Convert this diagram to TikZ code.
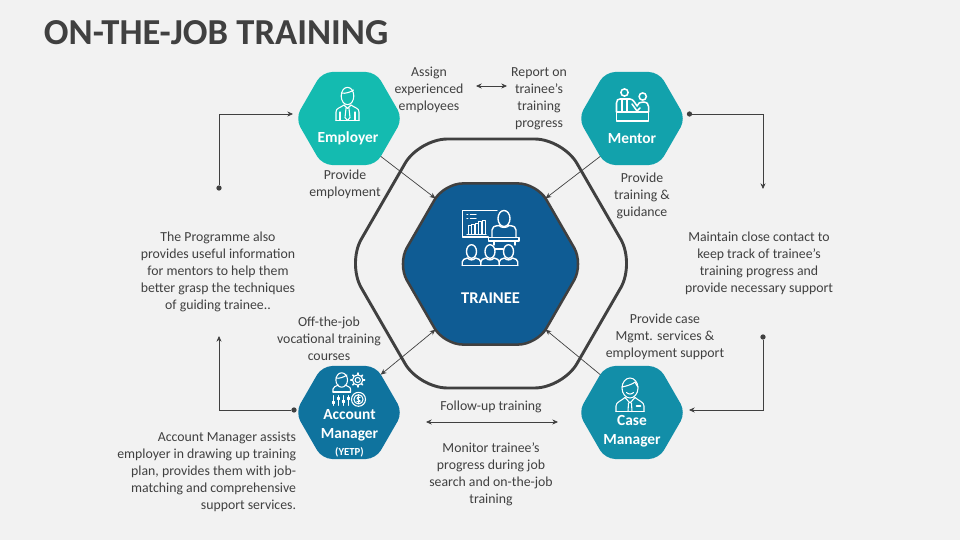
\documentclass[tikz,border=0pt]{standalone}
\usepackage{fontspec}
\setmainfont{Carlito}
\usetikzlibrary{shapes.geometric}
\usetikzlibrary{arrows.meta}
\definecolor{bgcol}{HTML}{F2F2F2}
\definecolor{inkcol}{HTML}{404040}
\definecolor{employercol}{HTML}{14BBB0}
\definecolor{mentorcol}{HTML}{12A2AC}
\definecolor{accountcol}{HTML}{0F739E}
\definecolor{casecol}{HTML}{128EA8}
\definecolor{traineecol}{HTML}{0F5C94}
\tikzset{
  smallhex/.style={regular polygon,regular polygon sides=6,inner sep=0pt,outer sep=0pt,minimum size=107.4/36*1cm,rounded corners=0.28cm},
  label/.style={text=inkcol,align=center,font=\fontsize{10.9}{13.4}\selectfont},
  hexlabel/.style={text=white,align=center,font=\fontsize{12.2}{15}\selectfont\bfseries},
  link/.style={draw=inkcol,line width=0.55pt,-{Stealth[length=4.5pt,width=4pt]}},
  twolink/.style={link,{Stealth[length=4.5pt,width=4pt]}-{Stealth[length=4.5pt,width=4pt]}},
  dot/.style={circle,fill=inkcol,inner sep=0pt,minimum size=4.2pt},
  icon/.style={draw=white,line width=0.85pt,line join=round,line cap=round},
}
\begin{document}
\begin{tikzpicture}[x=1cm/36,y=-1cm/36]
\fill[bgcol] (0,0) rectangle (960,540);
\node[anchor=west,text=inkcol,font=\fontsize{28.9}{34}\selectfont\bfseries] (title) at (39.5,33) {ON-THE-JOB TRAINING};

% outer ring and hexagons
\node[regular polygon,regular polygon sides=6,draw=inkcol,line width=2.3pt,inner sep=0pt,minimum size=287.5/36*1cm,rounded corners=0.78cm] (ring) at (491,263.5) {};
\node[regular polygon,regular polygon sides=6,fill=traineecol,draw=inkcol,line width=2pt,inner sep=0pt,outer sep=0pt,minimum size=186/36*1cm,rounded corners=0.52cm] (trainee) at (490.5,264) {};
\node[smallhex,fill=employercol] (employer) at (349,118.5) {};
\node[smallhex,fill=mentorcol] (mentor) at (632,118.5) {};
\node[smallhex,fill=accountcol] (account) at (349,412.5) {};
\node[smallhex,fill=casecol] (case) at (632,412.5) {};

% hexagon labels
\node[hexlabel] (employertxt) at (348,138) {Employer};
\node[hexlabel] (mentortxt) at (632,139) {Mentor};
\node[hexlabel] (accounttxt) at (349.5,425.5) {Account\\Manager};
\node[hexlabel,font=\fontsize{8.5}{10}\selectfont\bfseries] (yetptxt) at (349.5,452) {(YETP)};
\node[hexlabel] (casetxt) at (632,431.5) {Case\\Manager};
\node[hexlabel,font=\fontsize{13}{15}\selectfont\bfseries] (traineetxt) at (490.5,298) {TRAINEE};

% text blocks
\node[label] (assign) at (429,89.5) {Assign\\experienced\\employees};
\node[label] (report) at (539,98.5) {Report on\\trainee's\\training\\progress};
\node[label] (employment) at (345,184.5) {Provide\\employment};
\node[label] (guidance) at (642,196) {Provide\\training \&\\guidance};
\node[label] (contact) at (759,263.5) {Maintain close contact to\\keep track of trainee's\\training progress and\\provide necessary support};
\node[label] (programme) at (218,271.5) {The Programme also\\provides useful information\\for mentors to help them\\better grasp the techniques\\of guiding trainee..};
\node[label] (offjob) at (329,339) {Off-the-job\\vocational training\\courses};
\node[label] (casesvc) at (665,337) {Provide case\\Mgmt. services \&\\employment support};
\node[label] (followup) at (491,407) {Follow-up training};
\node[label] (monitor) at (491,474.5) {Monitor trainee's\\progress during job\\search and on-the-job\\training};
\node[label,align=right,anchor=east] (assists) at (300.5,471.5) {Account Manager assists\\employer in drawing up training\\plan, provides them with job-\\matching and comprehensive\\support services.};

% connectors
\draw[link] (employer.-50) -- (trainee.130);
\draw[link] (mentor.-130) -- (trainee.50);
\draw[twolink] (account.50) -- (trainee.-130);
\draw[link] (case.130) -- (trainee.-50);
\coordinate (topleft) at (476,86);
\coordinate (topright) at (507,86);
\draw[twolink] (topleft) -- (topright);
\coordinate (lowleft) at (426,422);
\coordinate (lowright) at (558,422);
\draw[twolink] (lowleft) -- (lowright);

\node[dot] (dota) at (219,188) {};
\coordinate (enda) at (293,114);
\draw[link] (dota) |- (enda);
\node[dot] (dotb) at (689.5,114) {};
\coordinate (endb) at (763,189);
\draw[link] (dotb) -| (endb);
\node[dot] (dotc) at (763,337) {};
\coordinate (endc) at (689,410);
\draw[link] (dotc) |- (endc);
\node[dot] (dotd) at (294,410) {};
\coordinate (endd) at (219,336);
\draw[link] (dotd) -| (endd);

% employer icon
\begin{scope}[icon]
\draw[icon] (347.5,96) ellipse (6.3 and 8.7);
\draw[icon] (341.5,93) .. controls (345,94) and (351,92) .. (353.5,90);
\draw[icon] (336,120.5) -- (336,112) .. controls (336,108) and (340,108) .. (344,105);
\draw[icon] (359,120.5) -- (359,112) .. controls (359,108) and (355,108) .. (351,105);
\draw[icon] (336,120.5) -- (359,120.5);
\draw[icon] (340,112) -- (340,120.5);
\draw[icon] (355,112) -- (355,120.5);
\draw[icon] (344,105) -- (347.5,108.5) -- (351,105);
\draw[icon] (346,108.5) -- (345,117.5) -- (347.5,120.5) -- (350,117.5) -- (349,108.5);
\end{scope}

% mentor icon
\draw[icon,line width=1.2pt] (624.5,92.5) circle (3.6);
\draw[icon,line width=1.2pt] (642.7,96.5) circle (3.6);
\draw[icon,line width=1.2pt] (616.5,112) rectangle (648.7,121);
\draw[icon,line width=1.2pt] (616.5,112) -- (616.5,103) .. controls (616.5,100) and (618,99) .. (620,99) -- (630,99) .. controls (633,99) and (635,103) .. (637,106) -- (637,106) .. controls (638,103) and (640,102) .. (643,102) .. controls (647,102) and (648.7,104) .. (648.7,107) -- (648.7,112);
\draw[icon,line width=1.2pt] (622,100) -- (622,111);
\draw[icon,line width=1.2pt] (627,100) -- (627,111);
\draw[icon,line width=1.2pt] (632,104) -- (637,111) -- (640,108);

% trainee icon
\draw[icon,line width=1.1pt] (497,210.7) -- (462.3,210.7) -- (462.3,237) -- (488.3,237);
\draw[icon,line width=1.1pt] (467,214.7) -- (467.8,214.7);
\draw[icon,line width=1.1pt] (470.5,214.7) -- (476,214.7);
\draw[icon,line width=1.1pt] (467,218.3) -- (467.8,218.3);
\draw[icon,line width=1.1pt] (470.5,218.3) -- (476,218.3);
\foreach \xa/\ya in {468/225.5,471.5/224.5,475/223,478.5/221.5,482/220}
  \draw[icon,line width=0.7pt] (\xa,234) -- (\xa,\ya) -- (\xa+3.2,\ya) -- (\xa+3.2,234);
\draw[icon,line width=1.1pt] (467,234.5) -- (486,234.5);
\draw[icon,line width=1.1pt] (504,218.5) ellipse (6 and 8);
\draw[icon,line width=1.1pt] (492,237) -- (492,230) .. controls (492,227) and (494,226) .. (499,225.5) .. controls (501,228) and (507,228) .. (509,225.5) .. controls (514,226) and (516,227) .. (516,230) -- (516,237);
\draw[icon,line width=1.1pt] (488.3,237.5) rectangle (519,241);
\draw[icon,line width=1.1pt] (494,241) -- (494,245);
\draw[icon,line width=1.1pt] (515,241) -- (515,245);
\draw[icon,line width=1.1pt] (495,249) -- (503,249);
\foreach \xa in {471.5,490,508.5} {
  \draw[icon,line width=1.1pt] (\xa,251.5) ellipse (5 and 6.8);
  \draw[icon,line width=1.1pt] (\xa-9.3,265.5) -- (\xa-9.3,262) .. controls (\xa-9.3,259.5) and (\xa-7,259) .. (\xa-4,258) .. controls (\xa-2,260.5) and (\xa+2,260.5) .. (\xa+4,258) .. controls (\xa+7,259) and (\xa+9.3,259.5) .. (\xa+9.3,262) -- (\xa+9.3,265.5);
}
\draw[icon,line width=1.1pt] (462.2,265.5) -- (517.8,265.5);

% account manager icon
\draw[icon] (341.7,380) ellipse (5.8 and 7.2);
\draw[icon] (336,378) .. controls (339,379) and (344,377) .. (347,375);
\draw[icon] (333,392) -- (333,389) .. controls (333,387) and (336,386) .. (338.5,385);
\draw[icon] (350.5,392) -- (350.5,389) .. controls (350.5,387) and (347,386) .. (345,385);
\draw[icon] (333,392) -- (350.5,392);
\draw[icon] (357.7,380) circle (2.6);
\draw[icon] (357.7,380) circle (5.2);
\foreach \angle in {0,45,...,315}
  \draw[icon,line width=1.3pt] (357.7,380) ++(\angle:5.4) -- ++(\angle:1.5);
\draw[icon] (358.5,399.3) circle (7);
\draw[icon] (358.5,399.3) circle (4.6);
\draw[icon,line width=0.7pt] (360.2,397.5) .. controls (358.5,396.3) and (356.7,397.2) .. (357,398.6) .. controls (357.4,400) and (360.3,399.6) .. (360.2,401) .. controls (360,402.4) and (357.8,402.2) .. (356.8,401.2);
\draw[icon,line width=0.7pt] (358.5,395.6) -- (358.5,403);
\foreach \xa/\ya in {333/402,338.3/398,343.6/401,348.9/398} {
  \draw[icon,line width=0.7pt] (\xa,395.5) -- (\xa,405.5);
  \draw[icon,line width=0.7pt,fill=white] (\xa-1,\ya-1) rectangle (\xa+1,\ya+1);
}

% case manager icon
\draw[icon] (630,388) ellipse (8 and 10);
\draw[icon] (622,387) .. controls (627,386) and (633,384) .. (635,382) .. controls (636,384) and (637,386) .. (638,387);
\draw[icon] (626.5,392.5) .. controls (628,394.5) and (632,394.5) .. (633.5,392.5);
\draw[icon] (616,411.5) -- (616,406) .. controls (616,402) and (621,401) .. (625,397.5);
\draw[icon] (644,411.5) -- (644,406) .. controls (644,402) and (639,401) .. (635,397.5);
\draw[icon] (616,411.5) -- (644,411.5);
\draw[icon] (625,397.5) -- (630,403) -- (635,397.5);
\draw[icon] (628.5,403) -- (628,411.5);
\draw[icon] (631.5,403) -- (632,411.5);
\draw[icon,line width=1.2pt] (636.5,406) -- (640.5,406);
\end{tikzpicture}
\end{document}
